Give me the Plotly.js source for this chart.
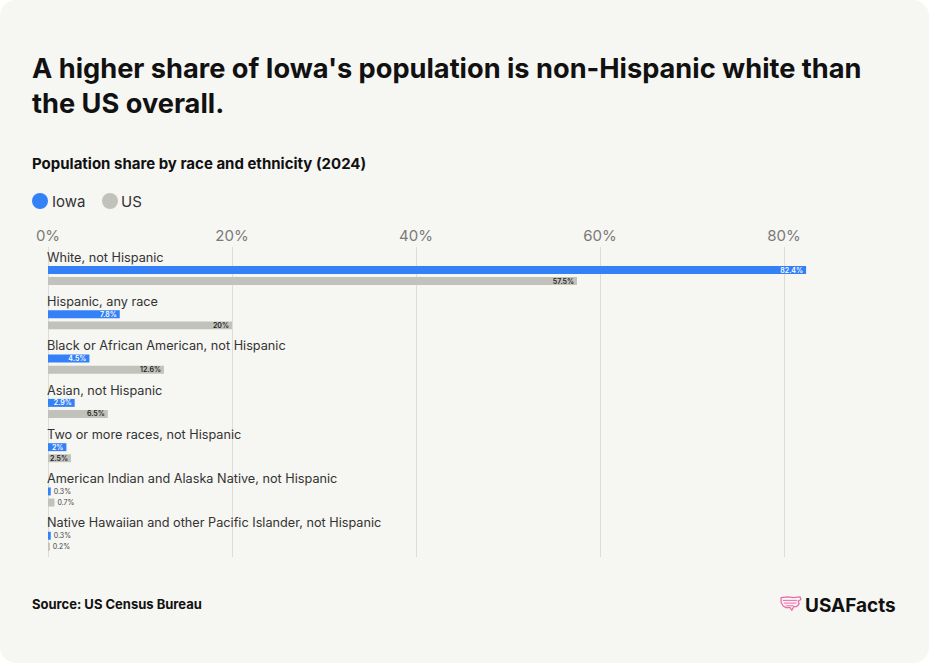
<!DOCTYPE html>
<html>
<head>
<meta charset="utf-8">
<script src="https://cdn.plot.ly/plotly-3.0.1.min.js"></script>
<style>
  html, body { margin: 0; padding: 0; background: #ffffff; }
  #card { position: relative; width: 929px; height: 663px; background: #f6f6f2; border-radius: 16px; overflow: hidden; }
  #chart { position: absolute; left: 0; top: 0; width: 929px; height: 663px; }
  #logo { position: absolute; left: 779px; top: 595px; }
</style>
</head>
<body>
<div id="card">
  <div id="chart"></div>
  <svg id="logo" width="24" height="18" viewBox="0 0 26 20">
    <path d="M2 3 L9 2 L16 3 L23 2 L24 5 L21 7 L22 10 L19 13 L16 13 L14 17 L12 14 L7 14 L4 12 L2 8 Z"
          fill="none" stroke="#ec6aa8" stroke-width="1.4" stroke-linejoin="round"/>
    <path d="M4 6 L20 6 M5 9 L19 9 M7 12 L16 12" fill="none" stroke="#ec6aa8" stroke-width="1.1"/>
  </svg>
</div>
<script>
// Population share by race and ethnicity, 2024 (percent)
const categories = [
  "White, not Hispanic",
  "Hispanic, any race",
  "Black or African American, not Hispanic",
  "Asian, not Hispanic",
  "Two or more races, not Hispanic",
  "American Indian and Alaska Native, not Hispanic",
  "Native Hawaiian and other Pacific Islander, not Hispanic"
];
const iowaValues = [82.4, 7.8, 4.5, 2.9, 2, 0.3, 0.3];
const usValues   = [57.5, 20, 12.6, 6.5, 2.5, 0.7, 0.2];
const iowaLabels = ["82.4%", "7.8%", "4.5%", "2.9%", "2%", "0.3%", "0.3%"];
const usLabels   = ["57.5%", "20%", "12.6%", "6.5%", "2.5%", "0.7%", "0.2%"];
const xTicks = [0, 20, 40, 60, 80];
const xTickLabels = ["0%", "20%", "40%", "60%", "80%"];

const IOWA_BLUE = "#3380f7";
const US_GRAY = "#c2c2bc";
const FONT = "Inter, 'Noto Sans', sans-serif";

// values under 1% are labelled beside the bar, the rest inside its end
const pos = v => v < 1 ? "outside" : "inside";

const iowa = {
  type: "bar", orientation: "h", name: "Iowa",
  y: categories, x: iowaValues, text: iowaLabels,
  width: 0.18, offset: -0.07,
  marker: { color: IOWA_BLUE },
  textposition: iowaValues.map(pos),
  insidetextanchor: "end",
  insidetextfont: { family: FONT, size: 7, color: "#ffffff", weight: 600 },
  outsidetextfont: { family: FONT, size: 7, color: "#444444" },
  constraintext: "none", cliponaxis: false,
  hoverinfo: "skip", showlegend: false
};
const us = {
  type: "bar", orientation: "h", name: "US",
  y: categories, x: usValues, text: usLabels,
  width: 0.18, offset: 0.18,
  marker: { color: US_GRAY },
  textposition: usValues.map(pos),
  insidetextanchor: "end",
  insidetextfont: { family: FONT, size: 7, color: "#222222", weight: 600 },
  outsidetextfont: { family: FONT, size: 7, color: "#444444" },
  constraintext: "none", cliponaxis: false,
  hoverinfo: "skip", showlegend: false
};

const layout = {
  width: 929, height: 663,
  margin: { l: 48, r: 53, t: 247, b: 106 },
  paper_bgcolor: "rgba(0,0,0,0)", plot_bgcolor: "rgba(0,0,0,0)",
  font: { family: FONT },
  barmode: "overlay",
  uniformtext: { minsize: 7, mode: "show" },
  xaxis: {
    side: "top", range: [0, 90], tickmode: "array", tickvals: xTicks, ticktext: xTickLabels,
    showgrid: true, gridcolor: "#dcdcd8", gridwidth: 1,
    zeroline: true, zerolinecolor: "#dcdcd8", zerolinewidth: 1,
    showline: false, ticks: "", ticklabelstandoff: 2,
    tickfont: { family: FONT, size: 15, color: "#7a7a78" }, fixedrange: true
  },
  yaxis: {
    type: "category", categoryorder: "array", categoryarray: categories,
    autorange: "reversed", showticklabels: false, showgrid: false,
    zeroline: false, showline: false, ticks: "", fixedrange: true
  },
  showlegend: false
};

// paper coordinates for page pixels, used by the header, legend and footer
const pw = layout.width - layout.margin.l - layout.margin.r;
const ph = layout.height - layout.margin.t - layout.margin.b;
const px = x => (x - layout.margin.l) / pw;
const py = y => (layout.height - layout.margin.b - y) / ph;

const note = (text, x, y, size, opts) => Object.assign({
  text, xref: "paper", yref: "paper", x: px(x), y: py(y),
  xanchor: "left", yanchor: "middle", align: "left", showarrow: false,
  font: { family: FONT, size, color: "#111111" }
}, opts || {});

const annotations = [
  note("<b>A higher share of Iowa's population is non-Hispanic white than<br>the US overall.</b>",
       30, 50, 27.2, { yanchor: "top" }),
  note("<b>Population share by race and ethnicity (2024)</b>", 30, 163, 15),
  note("Iowa", 50, 202, 15, { font: { family: FONT, size: 15, color: "#333333" } }),
  note("US", 119, 202, 15, { font: { family: FONT, size: 15, color: "#333333" } }),
  note("<b>Source: US Census Bureau</b>", 30, 604, 13),
  note("<b>USAFacts</b>", 898, 605, 19, { xanchor: "right" })
];

// category labels sit just above each pair of bars
categories.forEach(c => annotations.push({
  text: c, xref: "x", yref: "y", x: 0, y: c, xanchor: "left", yanchor: "middle",
  yshift: 12, xshift: -3, showarrow: false,
  font: { family: FONT, size: 12.7, color: "#333333" }
}));
layout.annotations = annotations;

// legend swatches
const dot = (cx, cy, color) => ({
  type: "circle", xref: "paper", yref: "paper", xsizemode: "pixel", ysizemode: "pixel",
  xanchor: px(cx), yanchor: py(cy), x0: -8, x1: 8, y0: -8, y1: 8,
  fillcolor: color, line: { width: 0 }
});
layout.shapes = [dot(40, 201, IOWA_BLUE), dot(110, 201, US_GRAY)];

Plotly.newPlot("chart", [iowa, us], layout, { staticPlot: true, displayModeBar: false });
</script>
</body>
</html>
